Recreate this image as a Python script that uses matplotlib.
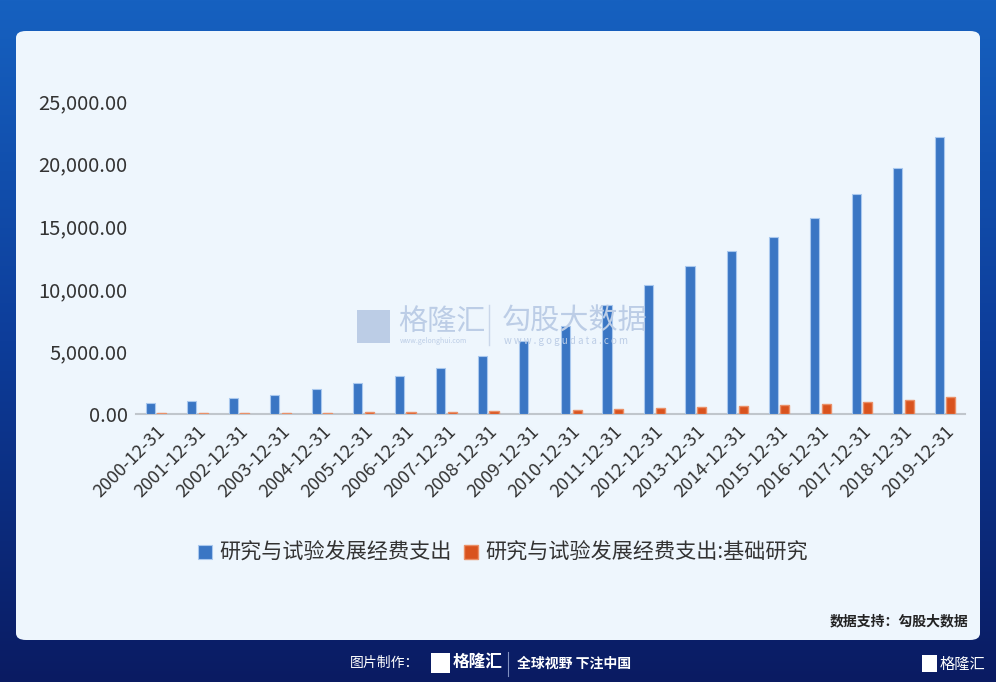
import numpy as np
import matplotlib.pyplot as plt
from matplotlib.patches import FancyBboxPatch, Rectangle
from matplotlib.colors import LinearSegmentedColormap

plt.rcParams['font.family'] = ['Noto Sans CJK SC', 'DejaVu Sans']

dates = ['2000-12-31', '2001-12-31', '2002-12-31', '2003-12-31', '2004-12-31',
         '2005-12-31', '2006-12-31', '2007-12-31', '2008-12-31', '2009-12-31',
         '2010-12-31', '2011-12-31', '2012-12-31', '2013-12-31', '2014-12-31',
         '2015-12-31', '2016-12-31', '2017-12-31', '2018-12-31', '2019-12-31']
rd_total = [895.7, 1042.5, 1287.6, 1539.6, 1966.3, 2450.0, 3003.1, 3710.2, 4616.0, 5802.1,
            7062.6, 8687.0, 10298.4, 11846.6, 13015.6, 14169.9, 15676.7, 17606.1, 19677.9, 22143.6]
rd_basic = [46.7, 55.6, 73.8, 87.7, 117.2, 131.2, 155.8, 174.5, 220.8, np.nan,
            324.5, 411.8, 498.8, 555.0, 613.5, 716.1, 822.9, 975.5, 1090.4, 1335.6]
series_names = ['研究与试验发展经费支出', '研究与试验发展经费支出:基础研究']
colors = ['#3a76c4', '#d9531e']

fig = plt.figure(figsize=(9.96, 6.82), dpi=100)

# background gradient
bg = fig.add_axes([0, 0, 1, 1], zorder=-10)
grad = np.linspace(0, 1, 256).reshape(-1, 1)
cmap = LinearSegmentedColormap.from_list('bg', ['#1661c0', '#0d3d9a', '#0a1b62'])
bg.imshow(grad, aspect='auto', cmap=cmap, extent=[0, 1, 0, 1], origin='upper')
bg.set_xlim(0, 1)
bg.set_ylim(0, 1)
bg.axis('off')

# white panel
panel = FancyBboxPatch((16 / 996, 1 - 640 / 682), (980 - 16) / 996, (640 - 31) / 682,
                       boxstyle='round,pad=0,rounding_size=0.01',
                       transform=fig.transFigure, facecolor='#eef6fd', edgecolor='none', zorder=-5)
fig.patches.append(panel)

ax = fig.add_axes([136 / 996, 1 - 414 / 682, (965 - 136) / 996, (414 - 76) / 682])
ax.set_facecolor('none')
x = np.arange(len(dates))
w = 0.22
ax.bar(x - 0.14, rd_total, width=w, color=colors[0], edgecolor='#a9c8ee', linewidth=0.8,
       label=series_names[0], zorder=3)
ax.bar(x + 0.14, rd_basic, width=w, color=colors[1], edgecolor='#ea9068', linewidth=1.0,
       label=series_names[1], zorder=3)
ax.set_xlim(-0.48, 19.48)
ax.set_ylim(0, 27000)
ax.set_yticks([0, 5000, 10000, 15000, 20000, 25000])
ax.set_yticklabels(['{:,.2f}'.format(v) for v in [0, 5000, 10000, 15000, 20000, 25000]],
                   fontsize=14.5, color='#333333')
ax.set_xticks(x)
ax.set_xticklabels(dates, rotation=45, ha='right', rotation_mode='anchor', fontsize=13,
                   color='#333333')
ax.tick_params(axis='both', length=0, pad=6)
for s in ['top', 'right', 'left']:
    ax.spines[s].set_visible(False)
ax.spines['bottom'].set_color('#c0c6cc')
ax.spines['bottom'].set_linewidth(1.5)
ax.spines['bottom'].set_zorder(2)

leg = fig.legend(loc='center', bbox_to_anchor=(0.505, 1 - 553 / 682), ncol=2, frameon=False,
                 fontsize=15.2, handlelength=0.65, handleheight=0.65, columnspacing=0.6,
                 handletextpad=0.35)
for t in leg.get_texts():
    t.set_color('#333333')

# watermark
fig.add_artist(Rectangle((357 / 996, 1 - 343 / 682), 33 / 996, 33 / 682,
                         transform=fig.transFigure, facecolor='#bccde6', edgecolor='none'))
fig.text(398 / 996, 1 - 322 / 682, '格隆汇', fontsize=21, color='#bccde6', ha='left', va='center')
fig.text(400 / 996, 1 - 341 / 682, 'www.gelonghui.com', fontsize=5, color='#bccde6', ha='left',
         va='center')
fig.add_artist(plt.Line2D([489 / 996, 489 / 996], [1 - 305 / 682, 1 - 345 / 682],
                          transform=fig.transFigure, color='#cad7ea', linewidth=1))
fig.text(502 / 996, 1 - 322 / 682, '勾股大数据', fontsize=21, color='#bccde6', ha='left', va='center')
fig.text(504 / 996, 1 - 341 / 682, 'w w w . g o g u d a t a . c o m', fontsize=7, color='#bccde6',
         ha='left', va='center')

fig.text(968 / 996, 1 - 621 / 682, '数据支持：勾股大数据', fontsize=10, color='#222222',
         ha='right', va='center', fontweight='bold')

# footer
fig.text(419 / 996, 1 - 663 / 682, '图片制作：', fontsize=10, color='white', ha='right',
         va='center')
fig.add_artist(Rectangle((431 / 996, 1 - 673 / 682), 19 / 996, 20 / 682,
                         transform=fig.transFigure, facecolor='white', edgecolor='none'))
fig.text(453 / 996, 1 - 662 / 682, '格隆汇', fontsize=12, color='white', ha='left', va='center',
         fontweight='bold')
fig.add_artist(plt.Line2D([508 / 996, 508 / 996], [1 - 652 / 682, 1 - 676 / 682],
                          transform=fig.transFigure, color='#8090c0', linewidth=0.8))
fig.text(517 / 996, 1 - 664 / 682, '全球视野 下注中国', fontsize=10, color='white', ha='left',
         va='center', fontweight='bold')
fig.add_artist(Rectangle((922 / 996, 1 - 672 / 682), 15 / 996, 17 / 682,
                         transform=fig.transFigure, facecolor='white', edgecolor='none'))
fig.text(940 / 996, 1 - 664 / 682, '格隆汇', fontsize=11, color='white', ha='left', va='center')

fig.savefig('out.png', dpi=100)
